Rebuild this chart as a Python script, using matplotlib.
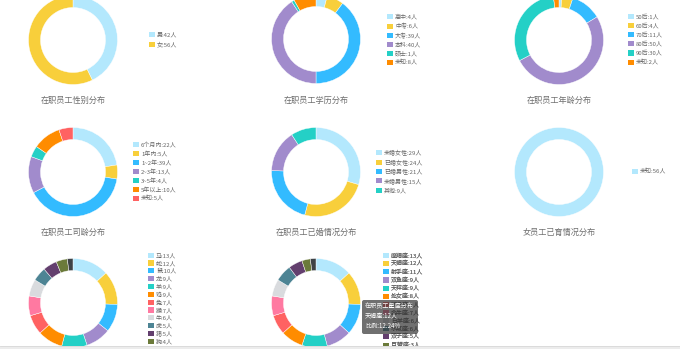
import matplotlib
matplotlib.use('Agg')
import matplotlib.pyplot as plt
from matplotlib.patches import FancyBboxPatch, Rectangle

plt.rcParams['font.family'] = ['Noto Sans CJK SC', 'DejaVu Sans']

W, H = 680, 349

palette = ['#b3e8fd', '#f8cf3b', '#33bbff', '#a18bcc', '#24d0c6', '#ff8c00',
           '#ff6262', '#ff79a1', '#d9dbde', '#4d8494', '#633f6e', '#6b7a3a', '#3e4246']

gender_labels = ['男', '女']
gender_values = [42, 56]
edu_labels = ['高中', '中专', '大专', '本科', '硕士', '未知']
edu_values = [4, 6, 39, 40, 1, 8]
age_labels = ['50后', '60后', '70后', '80后', '90后', '未知']
age_values = [1, 4, 11, 50, 30, 2]
tenure_labels = ['6个月内', '1年内', '1~2年', '2~3年', '3~5年', '5年以上', '未知']
tenure_values = [22, 5, 39, 13, 4, 10, 5]
marriage_labels = ['未婚女性', '已婚女性', '已婚男性', '未婚男性', '其他']
marriage_values = [29, 24, 21, 15, 9]
birth_labels = ['未知']
birth_values = [56]
zodiac_labels = ['马', '蛇', '鼠', '龙', '羊', '鸡', '兔', '猴', '牛', '虎', '猪', '狗', '未知']
zodiac_values = [13, 12, 10, 9, 9, 9, 7, 7, 6, 5, 5, 4, 2]
star_labels = ['摩羯座', '天蝎座', '射手座', '双鱼座', '天秤座', '处女座', '狮子座', '金牛座',
               '白羊座', '水瓶座', '双子座', '巨蟹座', '未知']
star_values = [13, 12, 11, 9, 9, 8, 7, 7, 6, 6, 5, 3, 2]

titles = ['在职员工性别分布', '在职员工学历分布', '在职员工年龄分布',
          '在职员工司龄分布', '在职员工已婚情况分布', '女员工已育情况分布',
          '', '']

datasets = [(gender_labels, gender_values), (edu_labels, edu_values), (age_labels, age_values),
            (tenure_labels, tenure_values), (marriage_labels, marriage_values),
            (birth_labels, birth_values), (zodiac_labels, zodiac_values), (star_labels, star_values)]

# layout in pixel coordinates (y from top)
centers = [(73, 40), (316, 39), (559, 40), (73, 172), (316, 172), (559, 172), (73, 303), (316, 303)]
radius = 44.5
title_y = [100, 100, 100, 232, 232, 232, None, None]
legend_pos = [(149, 35.3), (387, 17.3), (628, 17.3), (133, 145), (376, 153), (632, 172), (148, 256), (383, 256)]
legend_gap = [9.7, 8.9, 8.9, 8.7, 9.25, 9.0, 7.8, 7.8]
legend_visible = [2, 6, 6, 7, 5, 1, 12, 12]   # entries within the visible page area

fs_leg = 4.3
fs_title = 5.9
px = 100 / 72.0

fig = plt.figure(figsize=(W / 100, H / 100), dpi=100)
ax = fig.add_axes([0, 0, 1, 1])

for i, (labels, values) in enumerate(datasets):
    cx, cy = centers[i]
    wedges, _ = ax.pie(values, colors=palette[:len(values)], startangle=90, counterclock=False,
                       center=(cx, H - cy), radius=radius,
                       wedgeprops=dict(width=radius * 0.27, edgecolor='white', linewidth=0.3))
    if titles[i]:
        ax.text(cx, H - title_y[i], titles[i], ha='center', va='center',
                fontsize=fs_title, color='#6e6e6e')
    lx, ly = legend_pos[i]
    gap_px = legend_gap[i]
    fs_px = fs_leg * px
    n = legend_visible[i]
    leg = ax.legend(wedges[:n], [f'{l}:{v}人' for l, v in zip(labels[:n], values[:n])],
                    loc='upper left', bbox_to_anchor=((lx) / W, 1 - (ly - fs_px * 0.55) / H),
                    bbox_transform=fig.transFigure, frameon=False, fontsize=fs_leg,
                    borderpad=0, borderaxespad=0, handlelength=0.95, handleheight=0.95,
                    handletextpad=0.4, labelspacing=(gap_px - fs_px * 0.95) / fs_px,
                    labelcolor='#666666')
    for h in leg.legend_handles:
        h.set_linewidth(0)
    ax.add_artist(leg)

# tooltip overlay
tip_x, tip_y, tip_w, tip_h = 362, 300, 56, 34
ax.add_patch(FancyBboxPatch((tip_x, H - tip_y - tip_h), tip_w, tip_h,
                            boxstyle='round,pad=0,rounding_size=2',
                            fc=(0.2, 0.2, 0.2, 0.7), ec='none', zorder=20))
sel = 1
tip_lines = ['在职员工星座分布', f'{star_labels[sel]}:{star_values[sel]}人',
             f'比例:{star_values[sel] / sum(star_values) * 100:.2f}%']
for k, t in enumerate(tip_lines):
    ax.text(tip_x + 3, H - (306 + 10 * k), t, ha='left', va='center', fontsize=4.4,
            color='white', zorder=21)

# bottom scrollbar band
ax.add_patch(Rectangle((0, 0), W, 2.6, fc='#ececec', ec='none', zorder=30))
ax.plot([0, W], [2.6, 2.6], color='#d4d4d4', lw=0.5, zorder=31)

ax.set_xlim(0, W)
ax.set_ylim(0, H)
ax.set_aspect('auto')
ax.axis('off')

fig.savefig('out.png', dpi=100)
